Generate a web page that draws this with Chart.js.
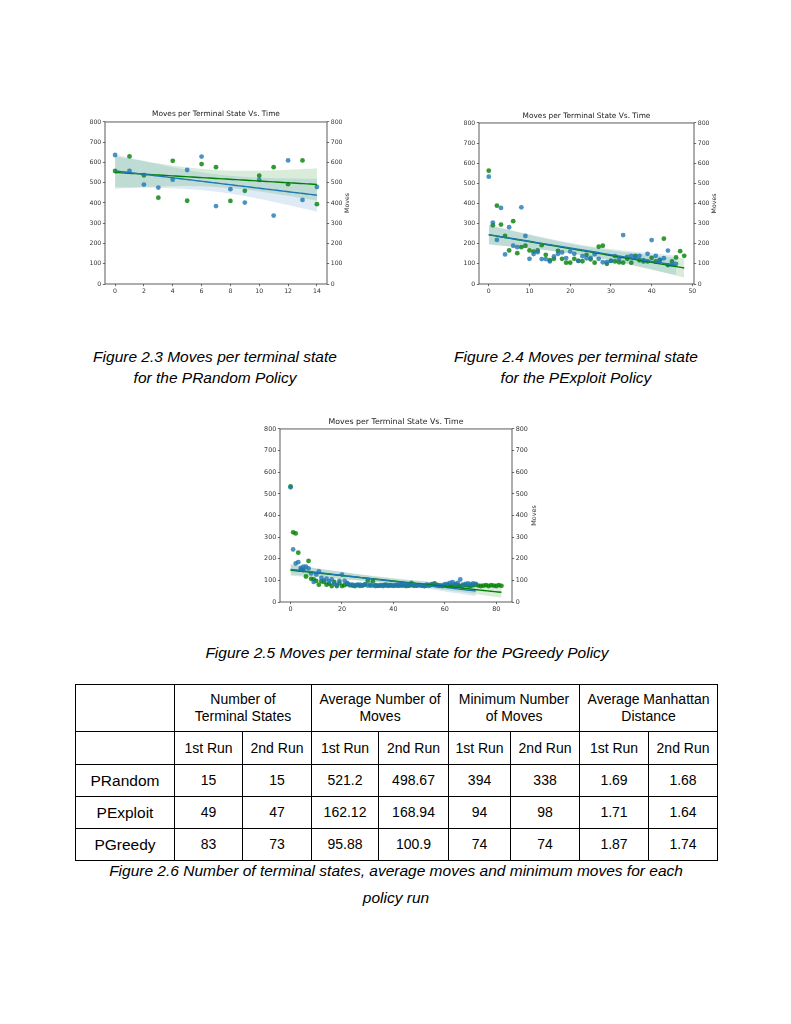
<!DOCTYPE html>
<html><head><meta charset="utf-8">
<script src="https://cdn.jsdelivr.net/npm/chart.js@4"></script>
<style>
html,body{margin:0;padding:0;background:#fff;}
body{width:791px;height:1024px;position:relative;overflow:hidden;font-family:"Liberation Sans",Arial,sans-serif;color:#000;}
.chart{position:absolute;}
.cap{position:absolute;font-style:italic;font-size:15.5px;text-align:center;white-space:nowrap;}
#tbl{position:absolute;left:75px;top:684px;border-collapse:collapse;table-layout:fixed;width:642px;}
#tbl td{border:1px solid #000;text-align:center;vertical-align:middle;padding:0;font-size:14px;line-height:17px;}
#tbl td.rl{font-size:15.5px;}
</style></head>
<body>
<div class="chart" style="left:77px;top:104px;width:278px;height:192px"><canvas id="c1"></canvas></div>
<div class="chart" style="left:451px;top:104px;width:271px;height:192px"><canvas id="c2"></canvas></div>
<div class="chart" style="left:252px;top:411px;width:288px;height:203px"><canvas id="c3"></canvas></div>

<div class="cap" style="left:15px;width:400px;top:346px;line-height:21px">Figure 2.3 Moves per terminal state<br>for the PRandom Policy</div>
<div class="cap" style="left:376px;width:400px;top:346px;line-height:21px">Figure 2.4 Moves per terminal state<br>for the PExploit Policy</div>
<div class="cap" style="left:107px;width:600px;top:642px;line-height:21px">Figure 2.5 Moves per terminal state for the PGreedy Policy</div>

<table id="tbl">
<colgroup><col style="width:99px"><col style="width:68px"><col style="width:69px"><col style="width:67px"><col style="width:70px"><col style="width:62px"><col style="width:69px"><col style="width:69px"><col style="width:69px"></colgroup>
<tr style="height:47px"><td></td><td colspan="2">Number of<br>Terminal States</td><td colspan="2">Average Number of<br>Moves</td><td colspan="2">Minimum Number<br>of Moves</td><td colspan="2">Average Manhattan<br>Distance</td></tr>
<tr style="height:33px"><td></td><td>1st Run</td><td>2nd Run</td><td>1st Run</td><td>2nd Run</td><td>1st Run</td><td>2nd Run</td><td>1st Run</td><td>2nd Run</td></tr>
<tr style="height:32px"><td class="rl">PRandom</td><td>15</td><td>15</td><td>521.2</td><td>498.67</td><td>394</td><td>338</td><td>1.69</td><td>1.68</td></tr>
<tr style="height:32px"><td class="rl">PExploit</td><td>49</td><td>47</td><td>162.12</td><td>168.94</td><td>94</td><td>98</td><td>1.71</td><td>1.64</td></tr>
<tr style="height:32px"><td class="rl">PGreedy</td><td>83</td><td>73</td><td>95.88</td><td>100.9</td><td>74</td><td>74</td><td>1.87</td><td>1.74</td></tr>
</table>
<div class="cap" style="left:46px;width:700px;top:857px;line-height:27px">Figure 2.6 Number of terminal states, average moves and minimum moves for each<br>policy run</div>

<script>
// ---------- data ----------
const chartTitle = 'Moves per Terminal State Vs. Time';
const rightAxisLabel = 'Moves';
const yTicks = [0, 100, 200, 300, 400, 500, 600, 700, 800];
const xTicks1 = [0, 2, 4, 6, 8, 10, 12, 14];
const xTicks2 = [0, 10, 20, 30, 40, 50];
const xTicks3 = [0, 20, 40, 60, 80];

// PRandom (green = 1st run, blue = 2nd run)
const prandomRun1 = [558, 630, 537, 426, 608, 411, 592, 577, 410, 460, 535, 577, 493, 610, 394];
const prandomRun2 = [637, 558, 491, 476, 515, 563, 629, 385, 468, 402, 514, 338, 610, 415, 479];

// PExploit
const pexploitRun1 = [563, 292, 389, 295, 239, 167, 312, 153, 183, 190, 167, 162, 167, 193, 145, 118, 125, 165, 125, 106,
  106, 125, 115, 113, 145, 123, 106, 185, 190, 100, 115, 112, 108, 106, 125, 106, 140, 118, 112, 112,
  130, 112, 118, 225, 94, 112, 132, 163, 140];
const pexploitRun2 = [533, 305, 219, 378, 147, 282, 190, 183, 381, 239, 125, 149, 158, 124, 124, 112, 137, 150, 157, 129,
  162, 150, 115, 138, 128, 130, 148, 125, 108, 108, 115, 138, 125, 243, 135, 140, 132, 140, 118, 150,
  218, 140, 120, 128, 166, 98, 100];

// PGreedy
const pgreedyRun1 = [534, 322, 317, 228, 150, 148, 118, 190, 107, 105,
  98, 80, 96, 93, 80, 85, 74, 93, 74, 88,
  74, 78, 84, 78, 76, 74, 78, 75, 76, 80,
  98, 76, 96, 78, 75, 76, 78, 80, 75, 78,
  76, 78, 75, 78, 76, 74, 76, 78, 75, 76,
  78, 76, 74, 76, 78, 80, 86, 78, 76, 74,
  76, 78, 74, 76, 80, 78, 74, 76, 78, 76,
  74, 78, 80, 76, 74, 76, 78, 74, 78, 76,
  74, 78, 75];
const pgreedyRun2 = [530, 243, 178, 184, 158, 163, 163, 155, 132, 93,
  127, 142, 111, 100, 108, 96, 105, 85, 77, 98,
  127, 98, 88, 80, 80, 78, 80, 80, 78, 82,
  76, 80, 76, 74, 76, 78, 74, 76, 78, 76,
  75, 76, 80, 76, 78, 82, 76, 88, 80, 76,
  78, 76, 75, 80, 76, 82, 78, 76, 75, 76,
  82, 84, 88, 92, 84, 88, 104, 80, 84, 86,
  82, 86, 84];

// ---------- styles ----------
const BLUE = 'rgb(31,119,180)', BLUE_PT = 'rgba(31,119,180,0.8)', BLUE_BAND = 'rgba(31,119,180,0.15)';
const GREEN = 'rgb(0,128,0)', GREEN_PT = 'rgba(0,128,0,0.8)', GREEN_BAND = 'rgba(0,128,0,0.15)';
const AX = '#333';

function fit(ys) {
  const n = ys.length;
  const xs = ys.map((_, i) => i);
  const mx = xs.reduce((a, b) => a + b, 0) / n;
  const my = ys.reduce((a, b) => a + b, 0) / n;
  let sxx = 0, sxy = 0;
  for (let i = 0; i < n; i++) { sxx += (xs[i] - mx) ** 2; sxy += (xs[i] - mx) * (ys[i] - my); }
  const b = sxy / sxx, a = my - b * mx;
  let ss = 0;
  for (let i = 0; i < n; i++) ss += (ys[i] - a - b * xs[i]) ** 2;
  return { a, b, n, mx, sxx, s: Math.sqrt(ss / (n - 2)), xmax: n - 1 };
}
function regData(ys, z) {
  const f = fit(ys);
  const line = [], up = [], lo = [];
  const N = 60;
  for (let k = 0; k <= N; k++) {
    const x = f.xmax * k / N;
    const yh = f.a + f.b * x;
    const se = f.s * Math.sqrt(1 / f.n + (x - f.mx) ** 2 / f.sxx);
    line.push({ x, y: yh });
    up.push({ x, y: yh + z * se });
    lo.push({ x, y: yh - z * se });
  }
  return { line, up, lo };
}
function pts(ys) { return ys.map((v, i) => ({ x: i, y: v })); }

function datasets(green, blue, z) {
  const g = regData(green, z), b = regData(blue, z);
  const lineDs = (data, color, order) => ({ type: 'line', data, borderColor: color, borderWidth: 1.4, pointRadius: 0, fill: false, order, tension: 0 });
  const bandUp = (data, order) => ({ type: 'line', data, borderWidth: 0, borderColor: 'rgba(0,0,0,0)', pointRadius: 0, fill: false, order });
  const bandLo = (data, color, order) => ({ type: 'line', data, borderWidth: 0, borderColor: 'rgba(0,0,0,0)', pointRadius: 0, fill: '-1', backgroundColor: color, order });
  const sc = (data, color, order) => ({ type: 'scatter', data, backgroundColor: color, borderWidth: 0, pointRadius: 2.4, order });
  return [
    lineDs(b.line, BLUE, 1),
    bandUp(b.up, 3), bandLo(b.lo, BLUE_BAND, 3),
    sc(pts(blue), BLUE_PT, 4),
    lineDs(g.line, GREEN, 2),
    bandUp(g.up, 5), bandLo(g.lo, GREEN_BAND, 5),
    sc(pts(green), GREEN_PT, 6)
  ];
}

const framePlugin = {
  id: 'frame',
  afterDatasetsDraw(chart) {
    const { ctx, chartArea: a } = chart;
    ctx.save();
    ctx.strokeStyle = AX; ctx.lineWidth = 0.8;
    ctx.strokeRect(a.left, a.top, a.right - a.left, a.bottom - a.top);
    ctx.restore();
  },
  afterDraw(chart, args, opts) {
    const { ctx, chartArea: a } = chart;
    ctx.save();
    ctx.fillStyle = AX;
    ctx.font = opts.size + 'px "DejaVu Sans"';
    ctx.textAlign = 'center'; ctx.textBaseline = 'middle';
    ctx.translate(a.right + opts.offset, (a.top + a.bottom) / 2);
    ctx.rotate(-Math.PI / 2);
    ctx.fillText(rightAxisLabel, 0, 0);
    ctx.restore();
  }
};

function makeChart(id, green, blue, xmin, xmax, xTicks, cfg) {
  const tickFont = { family: 'DejaVu Sans', size: cfg.tick };
  const gridOpt = { drawOnChartArea: false, drawTicks: true, tickLength: 2.2, color: AX, lineWidth: 0.7 };
  const yAxis = (pos) => ({
    type: 'linear', position: pos, min: 0, max: 800,
    afterBuildTicks: s => { s.ticks = yTicks.map(v => ({ value: v })); },
    afterFit: s => { s.width = cfg.side; },
    grid: gridOpt, border: { display: false },
    ticks: { font: tickFont, color: AX, padding: 1.5, autoSkip: false }
  });
  new Chart(document.getElementById(id), {
    type: 'scatter',
    data: { datasets: datasets(green, blue, cfg.z) },
    options: {
      responsive: true, maintainAspectRatio: false, animation: false,
      events: [],
      layout: { padding: 0 },
      plugins: {
        legend: { display: false }, tooltip: { enabled: false },
        title: { display: true, text: chartTitle, color: '#222',
          font: { family: 'DejaVu Sans', size: cfg.title, weight: 'normal', lineHeight: 1.2 },
          padding: { top: cfg.padTop, bottom: cfg.padBottom } },
        frame: { size: cfg.tick, offset: cfg.labelOff }
      },
      scales: {
        x: {
          type: 'linear', position: 'bottom', min: xmin, max: xmax,
          afterBuildTicks: s => { s.ticks = xTicks.map(v => ({ value: v })); },
          afterFit: s => { s.height = cfg.xh; },
          grid: gridOpt, border: { display: false },
          ticks: { font: tickFont, color: AX, padding: 1.5, maxRotation: 0, autoSkip: false }
        },
        y: yAxis('left'),
        y2: yAxis('right')
      }
    },
    plugins: [framePlugin]
  });
}

makeChart('c1', prandomRun1, prandomRun2, -0.7, 14.7, xTicks1,
  { tick: 6.2, title: 7.4, side: 28, xh: 12, padTop: 5.6, padBottom: 3.5, labelOff: 20, z: 1.96 });
makeChart('c2', pexploitRun1, pexploitRun2, -2.4, 50.4, xTicks2,
  { tick: 6.2, title: 7.4, side: 28, xh: 12, padTop: 7.3, padBottom: 2.8, labelOff: 20.5, z: 2.4 });
makeChart('c3', pgreedyRun1, pgreedyRun2, -4.1, 86.1, xTicks3,
  { tick: 6.4, title: 7.8, side: 28, xh: 12, padTop: 6.0, padBottom: 2.6, labelOff: 22, z: 2.0 });
</script>
</body></html>
